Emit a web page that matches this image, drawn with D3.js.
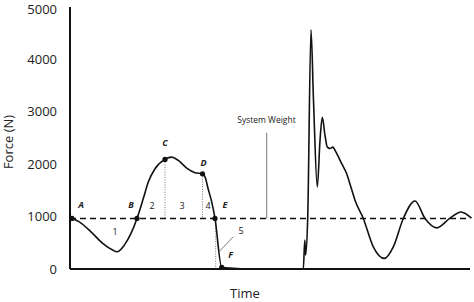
<!DOCTYPE html>
<html>
<head>
<meta charset="utf-8">
<script src="https://cdn.jsdelivr.net/npm/d3@7"></script>
<style>
  body { margin: 0; background: #fff; }
  text { font-family: "Open Sans", sans-serif; fill: #222; }
</style>
</head>
<body>
<div id="chart"></div>
<script>
var svgWidth = 474;
var svgHeight = 302;

// force-time curve (arbitrary time units, force in N)
var timeVals = [2, 9.3, 21, 32.7, 42.7, 47, 54.3, 61, 67, 73.3, 78.3, 85, 95, 101.7, 108.3, 116.7, 125, 132.5, 135.5, 138, 141.7, 145, 151.7,
  190, 233.3, 234.8, 235.6, 237.7, 241, 243.5, 247.3, 250, 252.3, 255, 257.3, 260, 262.7, 266, 271.7, 276.7, 281, 285,
  293.3, 303.3, 314.3, 323.3, 333.3, 345, 355, 366.7, 380, 391, 401.5];
var forceVals = [965, 899, 709, 489, 361, 329, 456, 679, 965, 1344, 1660, 1914, 2091, 2135, 2072, 1926, 1838, 1816, 1730, 1540, 1280, 965, 30,
  0, 0, 551, 266, 970, 4563, 3213, 1565, 2452, 2895, 2548, 2325, 2300, 2325, 2230, 2010, 1819, 1559, 1312,
  964, 424, 203, 424, 964, 1298, 964, 785, 970, 1089, 970];

var systemWeight = 965;
var yTicks = [0, 1000, 2000, 3000, 4000, 5000];

// key points A-F
var pointNames = ["A", "B", "C", "D", "E", "F"];
var pointTimes = [2, 67, 95, 132.5, 145, 151.7];
var pointForces = [965, 965, 2091, 1816, 965, 30];

// phase numbers
var phaseNames = ["1", "2", "3", "4", "5"];
var phaseTimes = [45, 82, 112, 138, 171];
var phaseForces = [640, 1140, 1140, 1140, 660];

var svg = d3.select("#chart").append("svg")
  .attr("width", svgWidth)
  .attr("height", svgHeight);

var x = d3.scaleLinear().domain([0, 400]).range([70, 470]);
var y = d3.scaleLinear().domain([0, 5000]).range([269, 7]);

var data = timeVals.map(function(t, i) { return { t: t, f: forceVals[i] }; });

// y tick labels
var yAxis = svg.append("g")
  .attr("transform", "translate(70,0)")
  .call(d3.axisLeft(y).tickValues(yTicks).tickSize(0).tickPadding(13).tickFormat(d3.format("d")));
yAxis.select(".domain").remove();
yAxis.selectAll("text")
  .style("font-family", "'Open Sans', sans-serif")
  .style("font-size", "13px")
  .attr("fill", "#222");
// keep the top label inside the frame
yAxis.selectAll(".tick").filter(function(d) { return d === 5000; })
  .select("text").attr("y", 2);

// dotted helper lines
var dot = svg.append("g")
  .attr("stroke", "#777")
  .attr("stroke-width", 1)
  .attr("stroke-dasharray", "1,1.5");
dot.append("line").attr("x1", x(95)).attr("x2", x(95)).attr("y1", y(2091)).attr("y2", y(systemWeight));
dot.append("line").attr("x1", x(132.5)).attr("x2", x(132.5)).attr("y1", y(1816)).attr("y2", y(systemWeight));
dot.append("line").attr("x1", x(145.7)).attr("x2", x(145.7)).attr("y1", y(systemWeight)).attr("y2", y(0));

// system weight line
svg.append("line")
  .attr("x1", x(0)).attr("x2", x(400))
  .attr("y1", y(systemWeight)).attr("y2", y(systemWeight))
  .attr("stroke", "#111")
  .attr("stroke-width", 1.5)
  .attr("stroke-dasharray", "6,4");

// force curve
var line = d3.line()
  .x(function(d) { return x(d.t); })
  .y(function(d) { return y(d.f); })
  .curve(d3.curveMonotoneX);

svg.append("path")
  .datum(data)
  .attr("d", line)
  .attr("fill", "none")
  .attr("stroke", "#111")
  .attr("stroke-width", 1.6);

// axes lines
svg.append("line")
  .attr("x1", 70).attr("x2", 70).attr("y1", y(5000)).attr("y2", y(0))
  .attr("stroke", "#111").attr("stroke-width", 2);
svg.append("line")
  .attr("x1", 70).attr("x2", x(400)).attr("y1", y(0)).attr("y2", y(0))
  .attr("stroke", "#111").attr("stroke-width", 2);

// key points
svg.selectAll(".pt")
  .data(pointNames)
  .enter().append("circle")
  .attr("cx", function(d, i) { return x(pointTimes[i]); })
  .attr("cy", function(d, i) { return y(pointForces[i]); })
  .attr("r", 2.6)
  .attr("fill", "#111");

var labelDx = [9, -6, 0, 1, 10, 9];
var labelDy = [-10, -10, -13, -8, -10, -9];
svg.selectAll(".ptlabel")
  .data(pointNames)
  .enter().append("text")
  .attr("x", function(d, i) { return x(pointTimes[i]) + labelDx[i]; })
  .attr("y", function(d, i) { return y(pointForces[i]) + labelDy[i]; })
  .attr("text-anchor", "middle")
  .style("font-size", "9px")
  .style("font-weight", "bold")
  .style("font-style", "italic")
  .text(function(d) { return d; });

svg.selectAll(".phase")
  .data(phaseNames)
  .enter().append("text")
  .attr("x", function(d, i) { return x(phaseTimes[i]); })
  .attr("y", function(d, i) { return y(phaseForces[i]); })
  .attr("text-anchor", "middle")
  .style("font-size", "9px")
  .text(function(d) { return d; });

// leader for phase 5
svg.append("line")
  .attr("x1", x(163.3)).attr("y1", y(615))
  .attr("x2", x(149)).attr("y2", y(330))
  .attr("stroke", "#555").attr("stroke-width", 0.8);

// system weight annotation
svg.append("text")
  .attr("x", x(196.5)).attr("y", y(2785))
  .attr("text-anchor", "middle")
  .style("font-size", "8.5px")
  .text("System Weight");
svg.append("line")
  .attr("x1", x(196.7)).attr("x2", x(196.7))
  .attr("y1", y(2600)).attr("y2", y(systemWeight))
  .attr("stroke", "#777").attr("stroke-width", 1);

// axis titles
svg.append("text")
  .attr("x", 245).attr("y", 298)
  .attr("text-anchor", "middle")
  .style("font-size", "13px")
  .text("Time");
svg.append("text")
  .attr("transform", "translate(13,142) rotate(-90)")
  .attr("text-anchor", "middle")
  .style("font-size", "13px")
  .text("Force (N)");
</script>
</body>
</html>
